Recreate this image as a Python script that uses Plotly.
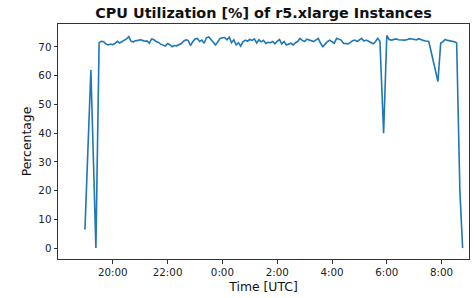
import pandas as pd
import plotly.graph_objects as go

# --- data ---
start_times = ["18:59", "19:12", "19:23"]
start_values = [6.5, 62.0, 0.0]

# regular 5-minute samples from 19:30 to 5:45
regular_start = "2024-01-01 19:30"
regular_values = [
    71.5, 72.0, 71.8, 71.0, 70.7, 71.0,                                  # 19:30-19:55
    70.8, 71.3, 72.0, 71.4, 71.9, 72.2, 72.8, 73.6, 72.0, 71.8, 72.2, 72.3,  # 20h
    72.5, 72.3, 72.0, 72.1, 71.3, 72.8, 72.5, 71.9, 71.6, 71.0, 70.7, 70.3,  # 21h
    71.2, 70.8, 70.1, 70.5, 70.4, 70.7, 71.2, 72.0, 72.5, 72.3, 70.5, 71.8,  # 22h
    72.8, 73.0, 71.9, 72.4, 71.3, 73.2, 73.5, 72.6, 71.5, 70.7, 71.8, 73.0,  # 23h
    73.2, 73.3, 72.5, 73.4, 71.5, 72.5, 70.7, 71.5, 70.3, 71.8, 72.4, 72.0,  # 0h
    72.6, 72.3, 72.8, 71.4, 72.5, 71.8, 72.3, 71.2, 71.6, 71.5, 71.9, 71.1,  # 1h
    72.0, 72.6, 71.1, 71.9, 70.7, 71.0, 71.3, 70.7, 71.5, 71.9, 73.0, 72.3,  # 2h
    71.9, 72.7, 72.4, 72.2, 71.9, 72.5, 73.0, 71.3, 70.1, 71.0, 71.9, 72.4,  # 3h
    71.8, 71.3, 73.0, 72.6, 72.4, 71.3, 71.2, 71.1, 71.5, 72.2, 72.4, 71.9,  # 4h
    72.5, 73.0, 72.1, 72.4, 72.0, 71.5, 71.1, 71.8, 73.0, 72.0,              # 5h
]

end_times = ["05:53", "06:00", "06:05", "06:10", "06:15", "06:20", "06:25", "06:30",
             "06:35", "06:40", "06:45", "06:50", "06:55", "07:00", "07:05", "07:10",
             "07:15", "07:20", "07:25", "07:32", "07:52", "07:58", "08:03", "08:08",
             "08:13", "08:18", "08:23", "08:28", "08:33", "08:40", "08:46"]
end_values = [40.0, 74.0, 72.6, 72.4, 72.5, 72.8, 72.5, 72.5,
              72.3, 72.4, 72.6, 72.9, 72.8, 72.6, 72.5, 72.9,
              72.5, 72.3, 72.1, 71.9, 58.0, 71.3, 71.9, 72.6,
              72.3, 72.2, 72.1, 71.8, 71.4, 20.0, 0.0]

tick_labels = ["20:00", "22:00", "0:00", "2:00", "4:00", "6:00", "8:00"]
tick_times = ["2024-01-01 20:00", "2024-01-01 22:00", "2024-01-02 00:00",
              "2024-01-02 02:00", "2024-01-02 04:00", "2024-01-02 06:00",
              "2024-01-02 08:00"]
y_ticks = [0, 10, 20, 30, 40, 50, 60, 70]

# --- build series ---
t_start = [pd.Timestamp("2024-01-01 " + s) for s in start_times]
t_reg = list(pd.date_range(regular_start, periods=len(regular_values), freq="5min"))
t_end = [pd.Timestamp("2024-01-02 " + s) for s in end_times]
times = t_start + t_reg + t_end
values = start_values + regular_values + end_values

fig = go.Figure()
fig.add_trace(go.Scatter(x=times, y=values, mode="lines",
                         line=dict(color="#1f77b4", width=1.6)))

axis_common = dict(showgrid=False, zeroline=False, showline=True, mirror=True,
                   linecolor="#333333", linewidth=1, ticks="outside", ticklen=3.5,
                   tickcolor="#333333", tickfont=dict(size=10.3, color="#222222"))

fig.update_layout(
    width=474, height=298,
    margin=dict(l=58, r=5, t=24, b=39),
    paper_bgcolor="white", plot_bgcolor="white",
    font=dict(family="DejaVu Sans", color="#111111"),
    showlegend=False,
    title=dict(text="<b>CPU Utilization [%] of r5.xlarge Instances</b>",
               x=0.5, xref="paper", xanchor="center",
               y=0.955, yref="container", yanchor="middle",
               font=dict(size=14.4, color="#111111")),
    xaxis=dict(range=["2024-01-01 18:00", "2024-01-02 09:00"],
               tickvals=tick_times, ticktext=tick_labels,
               title=dict(text="Time [UTC]", font=dict(size=12.4), standoff=5),
               **axis_common),
    yaxis=dict(range=[-3.8, 78], tickvals=y_ticks,
               title=dict(text="Percentage", font=dict(size=12.4), standoff=3),
               **axis_common),
)

fig.write_html("out.html")
